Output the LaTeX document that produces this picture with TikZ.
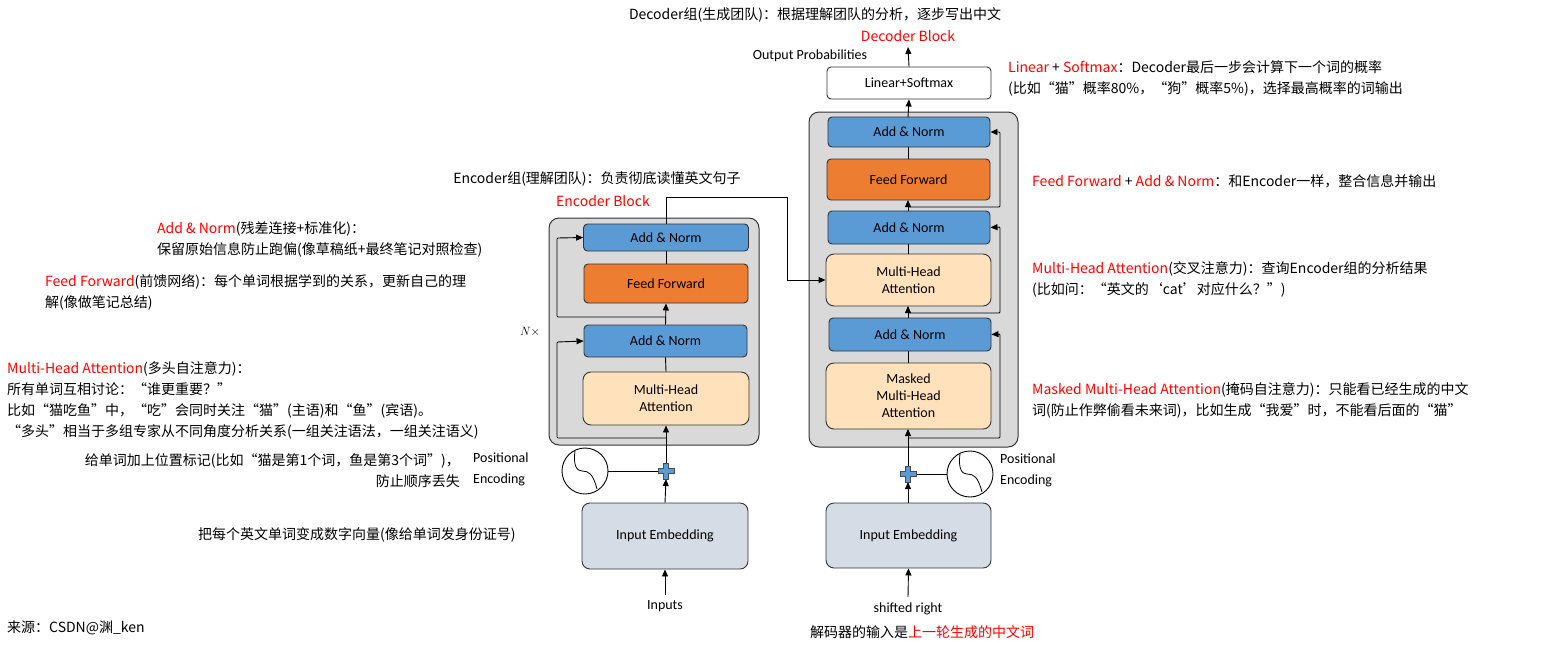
\documentclass[tikz,border=0pt]{standalone}
\usepackage{fontspec}
\setmainfont{Carlito}
\newfontfamily\cjk{Noto Sans CJK SC}
\usetikzlibrary{arrows.meta,calc}
\definecolor{bluebox}{HTML}{5B9BD5}
\definecolor{orangebox}{HTML}{ED7D31}
\definecolor{peach}{HTML}{FFE2BC}
\definecolor{graybg}{HTML}{D9D9D9}
\definecolor{embed}{HTML}{D6DCE5}
\definecolor{plusblue}{HTML}{5B9BD5}
\begin{document}
\begin{tikzpicture}[x=1pt,y=-1pt,
  blk/.style={draw=black!80,line width=0.9pt,rounded corners=4pt,inner sep=0pt,align=center,font=\fontsize{14}{17}\selectfont},
  an/.style={blk,fill=bluebox},
  ff/.style={blk,fill=orangebox},
  mh/.style={blk,fill=peach,rounded corners=8pt},
  emb/.style={blk,fill=embed,rounded corners=8pt},
  outer/.style={draw=black!80,line width=1pt,fill=graybg,rounded corners=10pt},
  ar/.style={-{Triangle[length=7pt,width=6pt]},line width=0.9pt},
  ln/.style={line width=0.9pt},
  t/.style={font=\cjk\fontsize{14}{21}\selectfont,inner sep=0pt,align=left},
  lat/.style={font=\fontsize{14}{21}\selectfont,inner sep=0pt,align=left},
  red/.style={text=red}]
\useasboundingbox (0,0) rectangle (1547,649);
% encoder
\draw[outer] (549,218) rectangle (759,445);
\node[an,minimum width=165,minimum height=27] (ean2) at (666,237.5) {Add \& Norm};
\node[ff,minimum width=164,minimum height=39] (eff) at (666,283.5) {Feed Forward};
\node[an,minimum width=163,minimum height=32] (ean1) at (665.5,341) {Add \& Norm};
\node[mh,minimum width=166,minimum height=53] (emh) at (666,398.5) {Multi-Head\\Attention};
\node[emb,minimum width=166,minimum height=66] (eemb) at (665,536) {Input Embedding};
\node[inner sep=0pt] (eplus) at (666,471) {};
\node[draw,circle,minimum size=46,inner sep=0pt,line width=0.9pt] (epe) at (585,471) {};
\node[lat] (inp) at (665,606) {Inputs};
\coordinate (inpA) at (665,595);
% decoder
\draw[outer] (809,112) rectangle (1018,447);
\node[an,minimum width=162,minimum height=30] (dan3) at (909,132) {Add \& Norm};
\node[ff,minimum width=163,minimum height=41] (dff) at (908.5,179.5) {Feed Forward};
\node[an,minimum width=162,minimum height=33] (dan2) at (909,227.5) {Add \& Norm};
\node[mh,minimum width=165,minimum height=52] (dmh) at (908.5,280) {Multi-Head\\Attention};
\node[an,minimum width=162,minimum height=33] (dan1) at (910,334.5) {Add \& Norm};
\node[mh,minimum width=165,minimum height=66] (dmmh) at (908.5,396) {Masked\\Multi-Head\\Attention};
\node[blk,fill=white,minimum width=164,minimum height=32] (lin) at (909,83) {Linear+Softmax};
\node[emb,minimum width=165,minimum height=65] (demb) at (908.5,535.5) {Input Embedding};
\node[inner sep=0pt] (dplus) at (908,474) {};
\node[draw,circle,minimum size=46,inner sep=0pt,line width=0.9pt] (dpe) at (970,474) {};
\node[lat] (shr) at (908,609) {shifted right};
\coordinate (shrA) at (908,597);
\node[lat] (outp) at (810,56) {Output Probabilities};
\coordinate (outA) at (908,47);
% encoder connectors
\draw[ar] (inpA) -- (eemb.south);
\draw[ar] (eemb.north) -- ($(eplus)+(0,8)$);
\draw[ln] (epe.east) -- ($(eplus)+(-8,0)$);
\draw[ar] ($(eplus)+(0,-8)$) -- (emh.south);
\draw[ln] (emh.north) -- (ean1.south);
\draw[ar] (ean1.north) -- (eff.south);
\draw[ln] (eff.north) -- (ean2.south);
\draw[ar,rounded corners=1pt] (666,438) -- (557,438) -- (557,342) -- (ean1.west);
\draw[ar,rounded corners=1pt] (666,317) -- (557,317) -- (557,238) -- (ean2.west);
\draw[ar] (ean2.north) -- (666,197) -- (787,197) -- (787,280) -- (dmh.west);
% decoder connectors
\draw[ar] (shrA) -- (demb.north |- demb.south);
\draw[ar] (908,503) -- ($(dplus)+(0,8)$);
\draw[ln] (dpe.west) -- ($(dplus)+(8,0)$);
\draw[ar] ($(dplus)+(0,-8)$) -- (908,429);
\draw[ln] (908,363) -- (908,351);
\draw[ar] (908,318) -- (908,306);
\draw[ln] (908,254) -- (908,244);
\draw[ar] (908,211) -- (908,200);
\draw[ln] (908,159) -- (908,147);
\draw[ar] (908,117) -- (lin.south);
\draw[ar] (lin.north) -- (outA);
\draw[ar,rounded corners=1pt] (908,438) -- (1000,438) -- (1000,334) -- (dan1.east);
\draw[ar,rounded corners=1pt] (908,313) -- (1000,313) -- (1000,227) -- (dan2.east);
\draw[ar,rounded corners=1pt] (908,207) -- (1000,207) -- (1000,132) -- (dan3.east);
% plus signs
\foreach \p in {eplus,dplus}{
  \draw[draw=black!70,fill=plusblue,line width=0.6pt] ($(\p)+(-2.5,-8)$) -- ($(\p)+(2.5,-8)$) -- ($(\p)+(2.5,-2.5)$) -- ($(\p)+(8,-2.5)$) -- ($(\p)+(8,2.5)$) -- ($(\p)+(2.5,2.5)$) -- ($(\p)+(2.5,8)$) -- ($(\p)+(-2.5,8)$) -- ($(\p)+(-2.5,2.5)$) -- ($(\p)+(-8,2.5)$) -- ($(\p)+(-8,-2.5)$) -- ($(\p)+(-2.5,-2.5)$) -- cycle;}
% sine icons
\foreach \c in {epe,dpe}{
  \draw[line width=0.8pt] ($(\c)+(-10,-20)$) .. controls ($(\c)+(-12,-5)$) and ($(\c)+(-8,0)$) .. ($(\c)+(-3,0)$) .. controls ($(\c)+(4,0)$) and ($(\c)+(8,3)$) .. ($(\c)+(12,18)$);}
% texts
\node[t,anchor=north] (dtitle) at (815,7) {Decoder组(生成团队)：根据理解团队的分析，逐步写出中文};
\node[t,red] (dblk) at (908,36) {Decoder Block};
\node[t,anchor=north west] (tlin) at (1008,60) {\textcolor{red}{Linear} + \textcolor{red}{Softmax}：Decoder最后一步会计算下一个词的概率\\(比如“猫”概率80\%，“狗”概率5\%)，选择最高概率的词输出};
\node[t,anchor=west] (tff) at (1032,181) {\textcolor{red}{Feed Forward} + \textcolor{red}{Add \& Norm}：和Encoder一样，整合信息并输出};
\node[t,anchor=north west] (tmh) at (1032,261) {\textcolor{red}{Multi-Head Attention}(交叉注意力)：查询Encoder组的分析结果\\(比如问：“英文的‘cat’对应什么？”)};
\node[t,anchor=north west] (tmmh) at (1032,382) {\textcolor{red}{Masked Multi-Head Attention}(掩码自注意力)：只能看已经生成的中文\\词(防止作弊偷看未来词)，比如生成“我爱”时，不能看后面的“猫”};
\node[lat,anchor=north west] (dpos) at (1000,454) {Positional\\Encoding};
\node[t,anchor=north] (etitle) at (597,171) {Encoder组(理解团队)：负责彻底读懂英文句子};
\node[t,red] (eblk) at (603,201) {Encoder Block};
\node[t,anchor=north west] (tan) at (157,222) {\textcolor{red}{Add \& Norm}(残差连接+标准化)：\\保留原始信息防止跑偏(像草稿纸+最终笔记对照检查)};
\node[t,anchor=north west] (tef) at (45,274) {\textcolor{red}{Feed Forward}(前馈网络)：每个单词根据学到的关系，更新自己的理\\解(像做笔记总结)};
\node[font=\fontsize{13}{15}\selectfont] (nx) at (530,332) {$N\times$};
\node[t,anchor=north west] (temh) at (7,361) {\textcolor{red}{Multi-Head Attention}(多头自注意力)：\\所有单词互相讨论：“谁更重要？”\\比如“猫吃鱼”中，“吃”会同时关注“猫”(主语)和“鱼”(宾语)。\\“多头”相当于多组专家从不同角度分析关系(一组关注语法，一组关注语义)};
\node[t,anchor=north east,align=right] (tpos) at (460,453) {给单词加上位置标记(比如“猫是第1个词，鱼是第3个词”)，\\防止顺序丢失};
\node[lat,anchor=north west] (epos) at (473,453) {Positional\\Encoding};
\node[t,anchor=west] (temb) at (198,535) {把每个英文单词变成数字向量(像给单词发身份证号)};
\node[t,anchor=west] (src) at (7,628) {来源：CSDN@渊\_ken};
\node[t] (dinp) at (922,632) {解码器的输入是\textcolor{red}{上一轮生成的中文词}};
\end{tikzpicture}
\end{document}
